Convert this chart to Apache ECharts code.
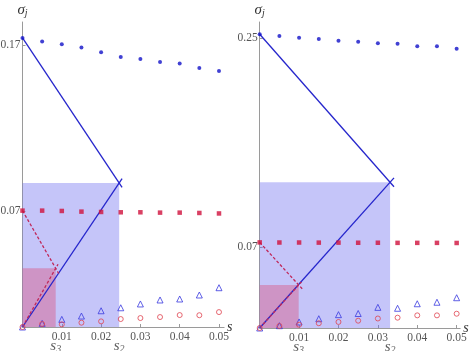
<!DOCTYPE html>
<html><head><meta charset="utf-8">
<script src="https://cdn.jsdelivr.net/npm/echarts@6/dist/echarts.min.js"></script>
<style>html,body{margin:0;padding:0;background:#fff}#c{width:474px;height:351px}</style>
</head><body><div id="c"></div>
<script>
// ---- data ----
const sGrid = [0, 0.005, 0.01, 0.015, 0.02, 0.025, 0.03, 0.035, 0.04, 0.045, 0.05];
const xTicks = [0.01, 0.02, 0.03, 0.04, 0.05];

const leftYTicks = [0.07, 0.17];
const leftDots = [0.1744, 0.1722, 0.1706, 0.1686, 0.1658, 0.1629, 0.1617, 0.1599, 0.1589, 0.1562, 0.1545];
const leftSquares = [0.0702, 0.0702, 0.0700, 0.0696, 0.0694, 0.0692, 0.0692, 0.0690, 0.0690, 0.0688, 0.0685];
const leftTriangles = [0, 0.0022, 0.0046, 0.0066, 0.0098, 0.0116, 0.0139, 0.0163, 0.0169, 0.0193, 0.0237];
const leftCircles = [0, 0.0018, 0.0016, 0.0026, 0.0034, 0.0048, 0.0054, 0.0060, 0.0072, 0.0071, 0.0090];
const leftS2 = 0.0246, leftSigma2 = 0.0869, leftBlueTop = 0.1744;
const leftS3 = 0.00845, leftSigma3 = 0.0354, leftRedTop = 0.0702;

const rightYTicks = [0.07, 0.25];
const rightDots = [0.2532, 0.2517, 0.2503, 0.2491, 0.2477, 0.2468, 0.2454, 0.2450, 0.2429, 0.2429, 0.2408];
const rightSquares = [0.0738, 0.0737, 0.0737, 0.0736, 0.0736, 0.0735, 0.0735, 0.0734, 0.0734, 0.0734, 0.0733];
const rightTriangles = [0, 0.0020, 0.0052, 0.0080, 0.0115, 0.0125, 0.0178, 0.0170, 0.0209, 0.0222, 0.0261];
const rightCircles = [0, 0.0017, 0.0028, 0.0041, 0.0052, 0.0063, 0.0082, 0.0089, 0.0109, 0.0109, 0.0123];
const rightS2 = 0.0331, rightSigma2 = 0.1256, rightBlueTop = 0.2532;
const rightS3 = 0.0099, rightSigma3 = 0.0371, rightRedTop = 0.0738;

// ---- styling ----
const SERIF = 'Liberation Serif';
const axisGray = '#9a9a9a';
const blueLine = '#2626cc';
const redDash = '#c0285a';
const richSub = {
  i: {fontFamily: SERIF, fontStyle: 'italic', fontSize: 15, color: '#333', lineHeight: 16},
  sub: {fontFamily: SERIF, fontStyle: 'italic', fontSize: 10, color: '#333', verticalAlign: 'bottom', lineHeight: 10}
};

function pairs(ys) { return sGrid.map((s, i) => [s, ys[i]]); }
function extend(p0, p1, f) { return [p0[0] + (p1[0] - p0[0]) * f, p0[1] + (p1[1] - p0[1]) * f]; }

function xAxisFor(g) {
  return {
    gridIndex: g, type: 'value', min: 0, max: 0.0513,
    axisLine: {show: true, lineStyle: {color: axisGray, width: 1}},
    splitLine: {show: false},
    axisTick: {show: true, customValues: xTicks, inside: true, length: 3, lineStyle: {color: axisGray}},
    axisLabel: {customValues: xTicks, formatter: v => v.toFixed(2), color: '#555', fontFamily: SERIF, fontSize: 11.5, margin: 4},
    name: 's', nameLocation: 'end', nameGap: 3, nameMoveOverlap: false,
    nameTextStyle: {fontFamily: SERIF, fontStyle: 'italic', fontSize: 14, color: '#333', padding: [0, 0, 5, 0]}
  };
}
function yAxisFor(g, max, ticks) {
  return {
    gridIndex: g, type: 'value', min: 0, max: max,
    axisLine: {show: true, onZero: false, lineStyle: {color: axisGray, width: 1}},
    splitLine: {show: false},
    axisTick: {show: true, customValues: ticks, inside: true, length: 3, lineStyle: {color: axisGray}},
    axisLabel: {customValues: ticks, formatter: v => v.toFixed(2), color: '#555', fontFamily: SERIF, fontSize: 11.5, margin: 2},
    name: '{i|σ}{sub|j}', nameLocation: 'end', nameGap: 4, nameMoveOverlap: false,
    nameTextStyle: {rich: richSub}
  };
}

function panelSeries(g, d) {
  const base = {xAxisIndex: g, yAxisIndex: g};
  const p2 = [d.s2, d.sig2], p3 = [d.s3, d.sig3];
  const out = [];
  out.push(Object.assign({}, base, {
    type: 'scatter', data: [], z: 1, silent: true,
    markArea: {
      silent: true, label: {show: false},
      data: [
        [{coord: [0, 0], itemStyle: {color: 'rgba(110,110,240,0.40)'}}, {coord: p2}],
        [{coord: [0, 0], itemStyle: {color: 'rgba(215,95,140,0.48)'}}, {coord: p3}]
      ]
    }
  }));
  const lineStyleBlue = {color: blueLine, width: 1.3};
  const lineStyleRed = {color: redDash, width: 1.3, type: [3, 2]};
  out.push(Object.assign({}, base, {type: 'line', z: 2, symbol: 'none', silent: true, lineStyle: lineStyleBlue,
    data: [[0, d.blueTop], extend([0, d.blueTop], p2, 1.03)]}));
  out.push(Object.assign({}, base, {type: 'line', z: 2, symbol: 'none', silent: true, lineStyle: lineStyleBlue,
    data: [[0, 0], extend([0, 0], p2, 1.03)]}));
  out.push(Object.assign({}, base, {type: 'line', z: 2, symbol: 'none', silent: true, lineStyle: lineStyleRed,
    data: [[0, d.redTop], extend([0, d.redTop], p3, 1.09)]}));
  out.push(Object.assign({}, base, {type: 'line', z: 2, symbol: 'none', silent: true, lineStyle: lineStyleRed,
    data: [[0, 0], extend([0, 0], p3, 1.07)]}));
  out.push(Object.assign({}, base, {type: 'scatter', z: 3, symbol: 'circle', symbolSize: 4, clip: false,
    itemStyle: {color: '#1212c8'}, data: pairs(d.dots)}));
  out.push(Object.assign({}, base, {type: 'scatter', z: 3, symbol: 'rect', symbolSize: 4.5, clip: false,
    itemStyle: {color: '#d0103c'}, data: pairs(d.squares)}));
  out.push(Object.assign({}, base, {type: 'scatter', z: 3, symbol: 'triangle', symbolSize: 6, clip: false,
    itemStyle: {color: 'rgba(0,0,0,0)', borderColor: '#3a3ae0', borderWidth: 1}, data: pairs(d.tris)}));
  out.push(Object.assign({}, base, {type: 'scatter', z: 3, symbol: 'circle', symbolSize: 5, clip: false,
    itemStyle: {color: 'rgba(0,0,0,0)', borderColor: '#e04450', borderWidth: 1}, data: pairs(d.circs)}));
  // s3 / s2 labels under the axis
  out.push(Object.assign({}, base, {type: 'scatter', z: 4, symbolSize: 0.1, clip: false, silent: true,
    itemStyle: {color: 'rgba(0,0,0,0)'},
    label: {show: true, position: 'inside', offset: [0, 19], formatter: p => p.data[2], rich: richSub},
    data: [[d.s3, 0, '{i|s}{sub|3}'], [d.s2, 0, '{i|s}{sub|2}']]}));
  return out;
}

const chart = echarts.init(document.getElementById('c'), null, {renderer: 'canvas'});
chart.setOption({
  animation: false,
  backgroundColor: '#fff',
  grid: [
    {left: 22.5, top: 22, width: 201.6, height: 305, outerBoundsMode: 'none', containLabel: false},
    {left: 259.7, top: 22, width: 200.5, height: 306, outerBoundsMode: 'none', containLabel: false}
  ],
  xAxis: [xAxisFor(0), Object.assign(xAxisFor(1), {max: 0.0509})],
  yAxis: [yAxisFor(0, 0.184, leftYTicks), yAxisFor(1, 0.2638, rightYTicks)],
  series: [].concat(
    panelSeries(0, {s2: leftS2, sig2: leftSigma2, s3: leftS3, sig3: leftSigma3, blueTop: leftBlueTop, redTop: leftRedTop,
      dots: leftDots, squares: leftSquares, tris: leftTriangles, circs: leftCircles}),
    panelSeries(1, {s2: rightS2, sig2: rightSigma2, s3: rightS3, sig3: rightSigma3, blueTop: rightBlueTop, redTop: rightRedTop,
      dots: rightDots, squares: rightSquares, tris: rightTriangles, circs: rightCircles})
  )
});
</script>
</body></html>
